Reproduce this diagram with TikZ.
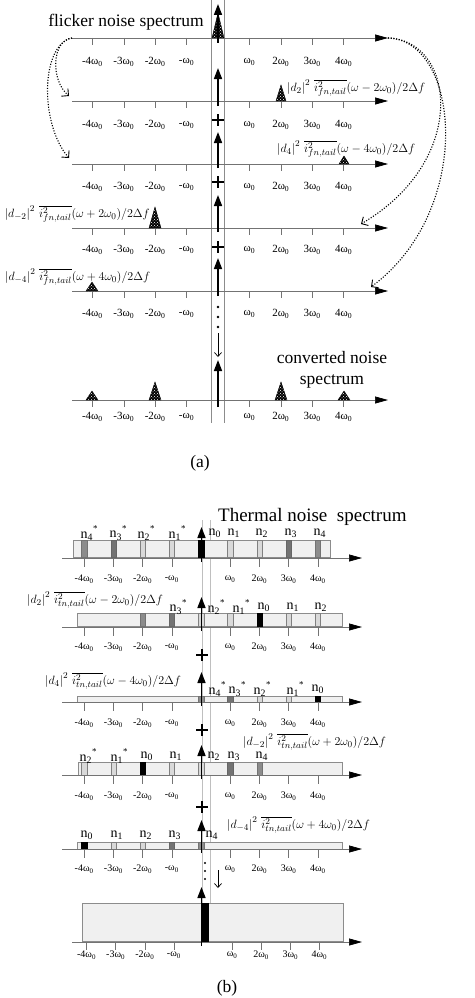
\documentclass[tikz,border=0pt]{standalone}
\usepackage{fontspec}
\setmainfont{Liberation Serif}
\usetikzlibrary{arrows.meta,patterns}
\newcommand\nst{\raisebox{0.45em}{\fontsize{9}{9}\selectfont *}}
\tikzset{
  axisA/.style={draw=black!55,line width=0.7pt,-{Triangle[length=13pt,width=7pt,black]}},
  tickA/.style={draw=black!55,line width=0.6pt},
  tlabA/.style={font=\fontsize{11}{13}\selectfont,inner sep=0pt},
  tlabB/.style={font=\fontsize{10}{12}\selectfont,inner sep=0pt},
  carrow/.style={line width=1.6pt,-{Triangle[length=11pt,width=8pt]}},
  plusline/.style={line width=1.2pt},
  guide/.style={draw=black!45,line width=0.5pt},
  guideB/.style={draw=black!25,line width=0.6pt},
  hatchtri/.style={draw=black,line width=0.4pt,preaction={fill=black},pattern=crosshatch dots,pattern color=white},
  dotcurve/.style={line width=1.1pt,dash pattern=on 1.1pt off 1.6pt,-{Straight Barb[length=5pt,width=10pt,line width=0.9pt]}},
  formA/.style={font=\fontsize{13}{15}\selectfont,inner sep=0pt},
  formB/.style={font=\fontsize{12.3}{14}\selectfont,inner sep=0pt},
  titletext/.style={font=\fontsize{17.5}{21}\selectfont,inner sep=0pt},
  band/.style={fill=black!6,draw=black!45,line width=0.5pt},
  bar0/.style={fill=black,draw=black,line width=0.4pt},
  barL/.style={fill=black!15,draw=black!50,line width=0.4pt},
  barD/.style={fill=black!55,draw=black!60,line width=0.4pt},
  barM/.style={fill=black!45,draw=black!55,line width=0.4pt},
  nlab/.style={font=\fontsize{14}{16}\selectfont,inner sep=0pt,anchor=west},
  thinarrow/.style={line width=0.7pt,-{Straight Barb[length=4pt,width=7pt]}},
}
\begin{document}
\begin{tikzpicture}[x=1pt,y=-1pt]
\useasboundingbox (0,0) rectangle (474,998);
\fill[white] (0,0) rectangle (474,998);

% ================= (a) =================
\draw[guide] (211,0) -- (211,423);
\draw[guide] (224,0) -- (224,423);

\foreach \ai/\yy/\off in {1/38/24,2/101/24,3/164/23,4/228/22,5/291/23,6/400/17}{
  \coordinate (a\ai s) at (72,\yy);
  \coordinate (a\ai e) at (388,\yy);
  \draw[axisA] (a\ai s) -- (a\ai e);
  \foreach \kk/\lab in {-4/-4,-3/-3,-2/-2,-1/-,1/,2/2,3/3,4/4}{
    \draw[tickA] (218+31.4*\kk,\yy) -- ++(0,7);
    \node[tlabA] (a\ai t\kk) at (218+31.4*\kk,\yy+\off) {\lab ω\textsubscript{0}};
  }
}

% spectra triangles
\draw[hatchtri] (212,38) -- (218,13) -- (224,38) -- cycle;
\draw[hatchtri] (276,101) -- (281,85) -- (286,101) -- cycle;
\draw[hatchtri] (339,164) -- (344,156) -- (349,164) -- cycle;
\draw[hatchtri] (149,228) -- (155,207) -- (161,228) -- cycle;
\draw[hatchtri] (86,291) -- (92,282) -- (98,291) -- cycle;
\draw[hatchtri] (86,400) -- (92,391) -- (98,400) -- cycle;
\draw[hatchtri] (149,400) -- (155,382) -- (161,400) -- cycle;
\draw[hatchtri] (275,400) -- (281,382) -- (287,400) -- cycle;
\draw[hatchtri] (338,400) -- (344,391) -- (350,400) -- cycle;

% centre arrows
\coordinate (ca1b) at (218,43);  \coordinate (ca1t) at (218,4);
\coordinate (ca2b) at (218,106); \coordinate (ca2t) at (218,68);
\coordinate (ca3b) at (218,168); \coordinate (ca3t) at (218,132);
\coordinate (ca4b) at (218,232); \coordinate (ca4t) at (218,195);
\coordinate (ca5b) at (218,296); \coordinate (ca5t) at (218,258);
\coordinate (ca6b) at (218,407); \coordinate (ca6t) at (218,360);
\foreach \ai in {1,...,6}{\draw[carrow] (ca\ai b) -- (ca\ai t);}
\foreach \yy in {120,182,247}{
  \draw[plusline] (212,\yy) -- (224,\yy) (218,\yy-6) -- (218,\yy+6);
}
\foreach \yy in {307,317,327}{\fill (218,\yy) circle (1.4);}
\coordinate (da1) at (218,333); \coordinate (da2) at (218,357);
\draw[thinarrow] (da1) -- (da2);

% dotted curved arrows
\coordinate (L2end) at (69,96);
\coordinate (L3end) at (69,158);
\coordinate (R4end) at (361,224);
\coordinate (R5end) at (371,287);
\draw[dotcurve] (a1s) .. controls (52,40) and (50,80) .. (L2end);
\draw[dotcurve] (a1s) .. controls (40,45) and (40,125) .. (L3end);
\draw[dotcurve] (a1e) .. controls (455,40) and (470,160) .. (R4end);
\draw[dotcurve] (a1e) .. controls (460,40) and (475,210) .. (R5end);

% labels (a)
\node[titletext] (flk) at (126,22) {flicker noise spectrum};
\node[formA,anchor=west] (f2) at (287,88) {$\left|d_2\right|^2\,\overline{i^2_{fn,tail}}(\omega-2\omega_0)\big/2\Delta f$};
\node[formA,anchor=west] (f3) at (277,149) {$\left|d_4\right|^2\,\overline{i^2_{fn,tail}}(\omega-4\omega_0)\big/2\Delta f$};
\node[formA,anchor=east] (f4) at (150,214) {$\left|d_{-2}\right|^2\,\overline{i^2_{fn,tail}}(\omega+2\omega_0)\big/2\Delta f$};
\node[formA,anchor=west] (f5) at (5,277) {$\left|d_{-4}\right|^2\,\overline{i^2_{fn,tail}}(\omega+4\omega_0)\big/2\Delta f$};
\node[titletext,align=center] (conv) at (332,370) {converted noise\\spectrum};
\node[titletext] (capa) at (200,463) {(a)};

% ================= (b) =================
\draw[guideB] (202,520) -- (202,942);
\draw[guideB] (210,520) -- (210,942);

% bands and bars
\draw[band] (73,540) rectangle (330,557);
\foreach \kk/\st in {-4/barM,-3/barD,-2/barL,-1/barL,1/barL,2/barL,3/barD,4/barM}
  {\draw[\st] (201+29.2*\kk-2.7,540) rectangle ++(5.4,17);}
\draw[bar0] (198.5,540) rectangle (204.5,557);

\draw[band] (77,613) rectangle (342,626);
\foreach \kk/\st in {-2/barM,-1/barD,0/barL,1/barL,2/bar0,3/barL,4/barL}
  {\draw[\st] (201+29.2*\kk-2.7,613) rectangle ++(5.4,13);}

\draw[band] (77,696) rectangle (342,702);
\foreach \kk/\st in {0/barM,1/barD,2/barL,3/barL,4/bar0}
  {\draw[\st] (201+29.2*\kk-2.7,696) rectangle ++(5.4,6);}

\draw[band] (78,762) rectangle (342,775);
\foreach \kk/\st in {-4/barL,-3/barL,-2/bar0,-1/barL,0/barL,1/barD,2/barM}
  {\draw[\st] (201+29.2*\kk-2.7,762) rectangle ++(5.4,13);}

\draw[band] (77,842) rectangle (342,849);
\foreach \kk/\st in {-4/bar0,-3/barL,-2/barL,-1/barD,0/barM}
  {\draw[\st] (201+29.2*\kk-2.7,842) rectangle ++(5.4,7);}

\draw[band] (82,903) rectangle (343,941);
\draw[bar0] (202,903) rectangle (208,941);

% axes (b)
\foreach \ai/\yy/\off in {1/558/21,2/627/20,3/702/21,4/775/21,5/849/20}{
  \coordinate (b\ai s) at (62,\yy);
  \coordinate (b\ai e) at (362,\yy);
  \draw[axisA] (b\ai s) -- (b\ai e);
  \foreach \kk/\lab in {-4/-4,-3/-3,-2/-2,-1/-,1/,2/2,3/3,4/4}{
    \draw[tickA] (201+29.2*\kk,\yy) -- ++(0,9);
    \node[tlabB] (b\ai t\kk) at (201+29.2*\kk,\yy+\off) {\lab ω\textsubscript{0}};
  }
}
\coordinate (b6s) at (72,942);
\coordinate (b6e) at (362,942);
\draw[axisA] (b6s) -- (b6e);
\foreach \kk/\lab in {-4/-4,-3/-3,-2/-2,-1/-,1/,2/2,3/3,4/4}{
  \draw[tickA] (203+29.1*\kk,942) -- ++(0,8);
  \node[tlabB] (b6t\kk) at (203+29.1*\kk,955) {\lab ω\textsubscript{0}};
}

% n labels
\foreach \xx/\sb/\sr in {84/4/\nst,113/3/\nst,141/2/\nst,172/1/\nst,212/0/{},231/1/{},259/2/{},288/3/{},317/4/{}}
  {\node[nlab] (n1x\xx) at (\xx-3.5,533) {n\textsubscript{\sb}\sr};}
\foreach \xx/\sb/\sr in {173/3/\nst,211/2/\nst,236/1/\nst,261/0/{},290/1/{},318/2/{}}
  {\node[nlab] (n2x\xx) at (\xx-3.5,607) {n\textsubscript{\sb}\sr};}
\foreach \xx/\sb/\sr in {212/4/\nst,232/3/\nst,257/2/\nst,290/1/\nst,315/0/{}}
  {\node[nlab] (n3x\xx) at (\xx-3.5,689) {n\textsubscript{\sb}\sr};}
\foreach \xx/\sb/\sr in {83/2/\nst,114/1/\nst,144/0/{},173/1/{},211/2/{},231/3/{},259/4/{}}
  {\node[nlab] (n4x\xx) at (\xx-3.5,756) {n\textsubscript{\sb}\sr};}
\foreach \xx/\sb in {84/0,114/1,143/2,172/3,209/4}
  {\node[nlab] (n5x\xx) at (\xx-3.5,835) {n\textsubscript{\sb}};}

% centre arrows (b)
\coordinate (cb1b) at (201.5,562); \coordinate (cb1t) at (201.5,527);
\coordinate (cb2b) at (201.5,631); \coordinate (cb2t) at (201.5,597);
\coordinate (cb3b) at (201.5,706); \coordinate (cb3t) at (201.5,672);
\coordinate (cb4b) at (201.5,779); \coordinate (cb4t) at (201.5,745);
\coordinate (cb5b) at (201.5,853); \coordinate (cb5t) at (201.5,820);
\coordinate (cb6b) at (201.5,946); \coordinate (cb6t) at (201.5,887);
\foreach \ai in {1,...,6}{\draw[carrow] (cb\ai b) -- (cb\ai t);}
\foreach \yy in {655,730,807}{
  \draw[plusline] (196,\yy) -- (208,\yy) (202,\yy-6) -- (202,\yy+6);
}
\foreach \yy in {863,871,879}{\fill (205,\yy) circle (1.2);}
\coordinate (db1) at (218,870); \coordinate (db2) at (218,888);
\draw[thinarrow] (db1) -- (db2);

% labels (b)
\node[font=\fontsize{19}{22}\selectfont,inner sep=0pt,anchor=west] (therm) at (218,517) {Thermal noise\ \ spectrum};
\node[formB,anchor=west] (g2) at (27,600) {$\left|d_2\right|^2\,\overline{i^2_{tn,tail}}(\omega-2\omega_0)\big/2\Delta f$};
\node[formB,anchor=west] (g3) at (45,681) {$\left|d_4\right|^2\,\overline{i^2_{tn,tail}}(\omega-4\omega_0)\big/2\Delta f$};
\node[formB,anchor=west] (g4) at (243,742) {$\left|d_{-2}\right|^2\,\overline{i^2_{tn,tail}}(\omega+2\omega_0)\big/2\Delta f$};
\node[formB,anchor=west] (g5) at (227,825) {$\left|d_{-4}\right|^2\,\overline{i^2_{tn,tail}}(\omega+4\omega_0)\big/2\Delta f$};
\node[titletext] (capb) at (227,988) {(b)};
\end{tikzpicture}
\end{document}
